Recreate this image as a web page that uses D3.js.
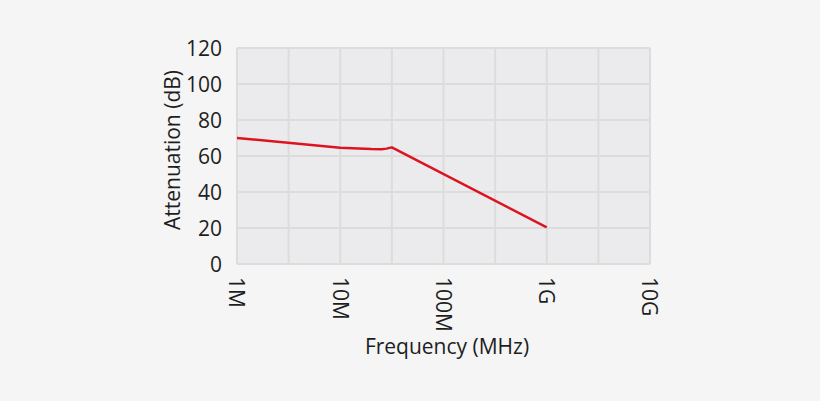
<!DOCTYPE html>
<html>
<head>
<meta charset="utf-8">
<script src="https://cdn.jsdelivr.net/npm/d3@7"></script>
<style>
  body { margin: 0; background: #f5f5f5; }
  svg text { font-family: "Open Sans", sans-serif; fill: #1e1e1e; }
</style>
</head>
<body>
<div id="chart"></div>
<script>
const W = 820, H = 401;
const margin = {top: 48, left: 237, right: 170, bottom: 137}; // plot box 237..650, 48..264

// data (MHz, dB)
const freqs = [1, 10, 15, 20, 25, 28, 31.6, 1000];
const atten = [70.0, 64.6, 64.2, 63.9, 63.8, 64.1, 64.8, 20.4];
const xTickVals = [1, 10, 100, 1000, 10000];
const xTickLabels = ["1M", "10M", "100M", "1G", "10G"];
const yTicks = [0, 20, 40, 60, 80, 100, 120];

const svg = d3.select("#chart").append("svg")
  .attr("width", W).attr("height", H);

const x = d3.scaleLog().domain([1, 10000]).range([margin.left, W - margin.right]);
const y = d3.scaleLinear().domain([0, 120]).range([H - margin.bottom, margin.top]);

// plot background
svg.append("rect")
  .attr("x", x(1)).attr("y", y(120))
  .attr("width", x(10000) - x(1)).attr("height", y(0) - y(120))
  .attr("fill", "#ebebed");

// grid: half-decade verticals, 20 dB horizontals
const vGrid = d3.range(0, 9).map(k => Math.pow(10, k / 2));
svg.append("g").selectAll("line").data(vGrid).enter().append("line")
  .attr("x1", d => x(d)).attr("x2", d => x(d))
  .attr("y1", y(120)).attr("y2", y(0))
  .attr("stroke", "#dcdcdc").attr("stroke-width", 2);
svg.append("g").selectAll("line").data(yTicks).enter().append("line")
  .attr("x1", x(1)).attr("x2", x(10000))
  .attr("y1", d => y(d)).attr("y2", d => y(d))
  .attr("stroke", "#dcdcdc").attr("stroke-width", 2);

// y tick labels
svg.append("g").selectAll("text").data(yTicks).enter().append("text")
  .attr("x", 222).attr("y", d => y(d))
  .attr("dy", "0.38em")
  .attr("text-anchor", "end")
  .style("font-size", "21px")
  .text(d => d);

// x tick labels, rotated
svg.append("g").selectAll("text").data(xTickVals).enter().append("text")
  .attr("transform", d => `translate(${x(d)},277) rotate(90)`)
  .attr("dy", "0.36em")
  .attr("text-anchor", "start")
  .style("font-size", "21px")
  .text((d, i) => xTickLabels[i]);

// axis titles
svg.append("text")
  .attr("transform", "translate(180,150) rotate(-90)")
  .attr("text-anchor", "middle")
  .style("font-size", "21px")
  .text("Attenuation (dB)");
svg.append("text")
  .attr("x", 447).attr("y", 354)
  .attr("text-anchor", "middle")
  .style("font-size", "21px")
  .text("Frequency (MHz)");

// attenuation curve
const pts = freqs.map((f, i) => [f, atten[i]]);
svg.append("path")
  .datum(pts)
  .attr("fill", "none")
  .attr("stroke", "#dc1420")
  .attr("stroke-width", 2.5)
  .attr("stroke-linejoin", "round")
  .attr("d", d3.line().x(d => x(d[0])).y(d => y(d[1])));
</script>
</body>
</html>
